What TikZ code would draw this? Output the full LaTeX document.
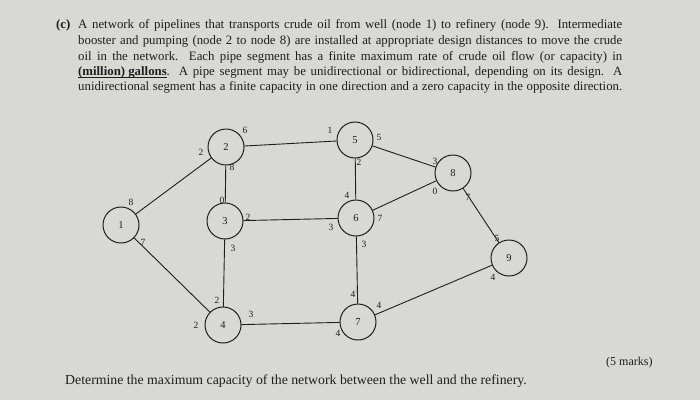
\documentclass[tikz,border=0pt]{standalone}
\usepackage{fontspec}
\setmainfont{Liberation Serif}
\newcommand{\myul}[1]{\setbox0\hbox{#1}\rlap{\rule[-2.5pt]{\wd0}{0.7pt}}\box0}
\begin{document}
\begin{tikzpicture}[x=1pt,y=-1pt]
\definecolor{paper}{RGB}{216,216,212}
\definecolor{ink}{RGB}{30,30,30}
\tikzset{nd/.style={circle,draw=ink,line width=1pt,minimum size=36pt,inner sep=0pt,font=\fontsize{10.5}{10.5}\selectfont,text=ink},
lb/.style={font=\fontsize{9.5}{9.5}\selectfont,text=ink,inner sep=0pt},
ln/.style={anchor=west,inner sep=0pt,font=\fontsize{12.8}{12.8}\selectfont,text=ink},
ed/.style={draw=ink,line width=0.9pt}}
\fill[paper] (0,0) rectangle (700,400);
\useasboundingbox (0,0) rectangle (700,400);
\node[ln] (c) at (56,25) {\textbf{(c)}};
\node[ln] (l1) at (78,25) {\makebox[544pt][s]{A network of pipelines that transports crude oil from well (node 1) to refinery (node 9). Intermediate}};
\node[ln] (l2) at (78,41) {\makebox[544pt][s]{booster and pumping (node 2 to node 8) are installed at appropriate design distances to move the crude}};
\node[ln] (l3) at (78,57) {\makebox[544pt][s]{oil in the network. Each pipe segment has a finite maximum rate of crude oil flow (or capacity) in}};
\node[ln] (l4) at (78,72) {\makebox[544pt][s]{\myul{\textbf{(million) gallons}}. A pipe segment may be unidirectional or bidirectional, depending on its design. A}};
\node[ln] (l5) at (78,87) {\makebox[544pt][s]{unidirectional segment has a finite capacity in one direction and a zero capacity in the opposite direction.}};
\node[ln,font=\fontsize{13.8}{13.8}\selectfont] (q) at (65,381) {Determine the maximum capacity of the network between the well and the refinery.};
\node[ln,font=\fontsize{12}{12}\selectfont] (m) at (606,363) {(5 marks)};
\node[nd] (n1) at (121,225) {1};
\node[nd] (n2) at (226,147) {2};
\node[nd] (n3) at (225,221) {3};
\node[nd] (n4) at (223,325) {4};
\node[nd] (n5) at (355,140) {5};
\node[nd] (n6) at (356,218) {6};
\node[nd] (n7) at (358,322) {7};
\node[nd] (n8) at (453,173) {8};
\node[nd] (n9) at (509,258) {9};
\draw[ed] (n1)--(n2); \draw[ed] (n1)--(n4); \draw[ed] (n2)--(n5); \draw[ed] (n2)--(n3);
\draw[ed] (n3)--(n6); \draw[ed] (n3)--(n4); \draw[ed] (n4)--(n7); \draw[ed] (n5)--(n6);
\draw[ed] (n5)--(n8); \draw[ed] (n6)--(n8); \draw[ed] (n6)--(n7); \draw[ed] (n8)--(n9);
\draw[ed] (n7)--(n9);
\node[lb] (a1) at (245,130) {6}; \node[lb] (a2) at (201,152) {2}; \node[lb] (a3) at (232,167) {8};
\node[lb] (a4) at (131,202) {8}; \node[lb] (a5) at (222,200) {0}; \node[lb] (a6) at (248,217) {2};
\node[lb] (a7) at (143,242) {7}; \node[lb] (a8) at (233,248) {3}; \node[lb] (a9) at (217,300) {2};
\node[lb] (a10) at (251,314) {3}; \node[lb] (a11) at (196,325) {2}; \node[lb] (a12) at (330,130) {1};
\node[lb] (a13) at (379,137) {5}; \node[lb] (a14) at (359,162) {2}; \node[lb] (a15) at (347,195) {4};
\node[lb] (a16) at (380,218) {7}; \node[lb] (a17) at (331,227) {3}; \node[lb] (a18) at (364,244) {3};
\node[lb] (a19) at (353,294) {4}; \node[lb] (a20) at (379,305) {4}; \node[lb] (a21) at (338,333) {4};
\node[lb] (a22) at (435,161) {3}; \node[lb] (a23) at (435,191) {0}; \node[lb] (a24) at (468,197) {7};
\node[lb] (a25) at (497,238) {5}; \node[lb] (a26) at (493,277) {4};
\end{tikzpicture}
\end{document}
